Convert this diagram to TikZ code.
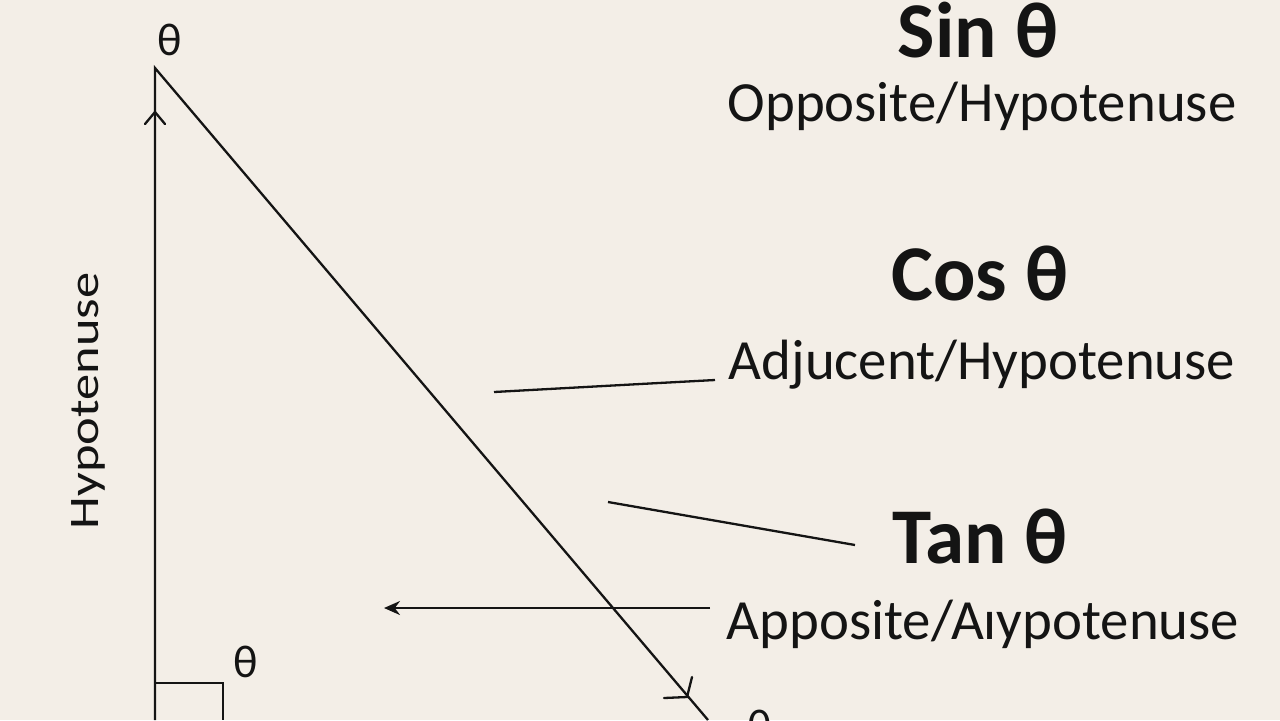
\documentclass[tikz,border=0pt]{standalone}
\usepackage{fontspec}
\setmainfont{Carlito}
\usetikzlibrary{arrows.meta}
\definecolor{bg}{RGB}{243,238,231}
\definecolor{ink}{RGB}{20,20,20}
\begin{document}
\begin{tikzpicture}[x=0.5pt,y=-0.5pt,
  edge/.style={draw=ink,line width=1.15pt},
  tick/.style={draw=ink,line width=1.15pt,line cap=round},
  head/.style={font=\fontsize{39.5}{42}\selectfont\bfseries,text=ink,anchor=base,inner sep=0pt},
  ratio/.style={font=\fontsize{28.4}{30}\selectfont,text=ink,anchor=base,inner sep=0pt},
  ang/.style={font=\fontsize{23}{25}\selectfont,text=ink,inner sep=0pt}]
\fill[bg] (0,0) rectangle (1280,720);
\useasboundingbox (0,0) rectangle (1280,720);
\clip (0,0) rectangle (1280,720);
% triangle
\coordinate (top) at (155,68);
\coordinate (bl) at (155,720);
\coordinate (br) at (708,720);
\draw[edge] (bl) -- (top) -- (br);
% arrow marks
\coordinate (vtip) at (155,112);
\draw[tick] (145,124) -- (vtip) -- (165,124);
\coordinate (htip) at (687,697);
\draw[tick] (664,698) -- (htip) -- (692,677);
% right-angle square
\coordinate (sq1) at (155,683);
\coordinate (sq2) at (223,683);
\coordinate (sq3) at (223,720);
\draw[edge] (sq1) -- (sq2) -- (sq3);
% angle labels
\node[ang] (t1) at (170,40) {θ};
\node[ang] (t2) at (246,662) {θ};
\node[ang] (t3) at (760,726) {θ};
% side label
\node[font=\fontsize{21}{23}\selectfont,text=ink,rotate=90,inner sep=0pt] (hyp) at (88,401) {\scalebox{1.25}[1]{Hypotenuse}};
% right texts
\node[head] (sin) at (978,57) {Sin θ};
\node[ratio] (r1) at (982,121) {Opposite/Hypotenuse};
\node[head] (cos) at (980,300) {Cos θ};
\node[ratio] (r2) at (982,379) {Adjucent/Hypotenuse};
\node[head] (tan) at (980,563) {Tan θ};
\node[ratio] (r3) at (983,639) {Apposite/Aıypotenuse};
% pointer lines
\coordinate (a1) at (715,380);
\coordinate (a2) at (494,392);
\draw[edge] (a1) .. controls (640,384) .. (a2);
\coordinate (b1) at (855,545);
\coordinate (b2) at (608,502);
\draw[edge] (b1) -- (b2);
\coordinate (c1) at (710,608);
\coordinate (c2) at (384,608);
\draw[edge,-{Stealth[length=8pt,width=7pt]}] (c1) -- (c2);
\end{tikzpicture}
\end{document}
